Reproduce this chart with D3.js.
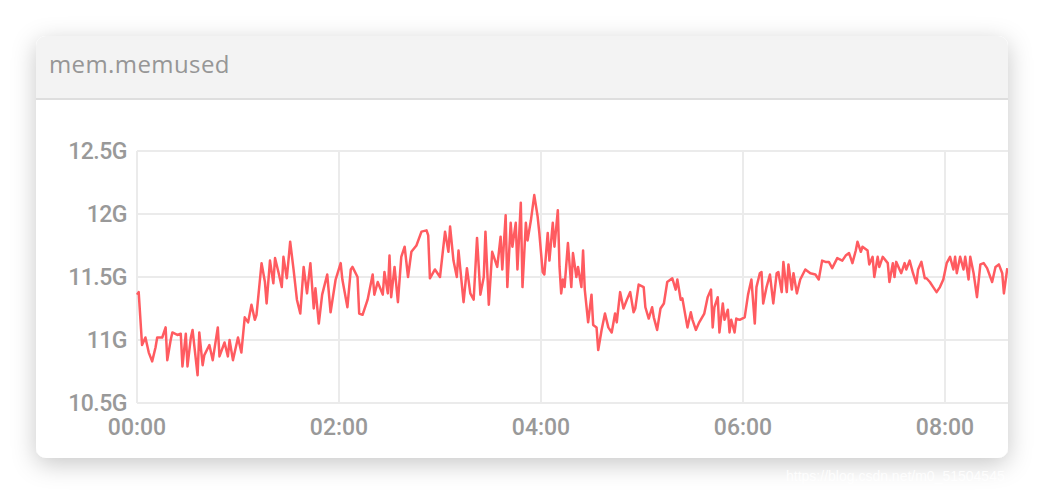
<!DOCTYPE html>
<html>
<head>
<meta charset="utf-8">
<script src="https://cdn.jsdelivr.net/npm/d3@7"></script>
<style>
  html, body { margin: 0; padding: 0; background: #ffffff; }
  svg { display: block; }
</style>
</head>
<body>
<svg id="chart"></svg>
<script>
// minutes since 00:00 and memory used in G
const minutes = [
  0, 1, 3, 5, 7, 9, 11, 12, 15, 17, 18, 20, 21, 24, 26, 27, 29, 30, 32, 33,
  36, 37, 39, 40, 43, 45, 48, 49, 52, 54, 55, 57, 60, 62, 64, 66, 68, 70, 71, 74,
  76, 77, 79, 81, 82, 84, 86, 87, 89, 91, 93, 95, 97, 99, 101, 103, 105, 106, 108, 110,
  113, 115, 118, 121, 122, 125, 127, 128, 131, 132, 134, 137, 140, 141, 143, 146, 147, 149, 150, 151,
  153, 155, 157, 159, 161, 163, 166, 169, 172, 173, 174, 177, 180, 183, 185, 186, 188, 190, 191, 194,
  196, 198, 200, 202, 204, 206, 207, 209, 211, 214, 216, 217, 219, 220, 222, 223, 225, 226, 228, 229,
  231, 232, 234, 236, 238, 239, 241, 242, 244, 245, 247, 248, 250, 251, 252, 253, 254, 256, 258, 259,
  261, 262, 264, 265, 266, 268, 270, 271, 273, 274, 276, 278, 280, 282, 284, 285, 287, 289, 291, 293,
  295, 296, 298, 301, 302, 304, 306, 307, 309, 311, 313, 315, 318, 320, 321, 323, 324, 327, 329, 330,
  332, 334, 337, 339, 341, 342, 343, 345, 346, 348, 349, 351, 352, 353, 355, 356, 358, 361, 363, 365,
  367, 368, 370, 371, 372, 374, 376, 378, 380, 381, 383, 384, 386, 387, 389, 390, 392, 394, 397, 400,
  403, 405, 407, 409, 411, 413, 416, 419, 421, 423, 425, 427, 428, 430, 431, 434, 435, 437, 438, 440,
  441, 443, 446, 447, 449, 450, 451, 454, 456, 457, 459, 461, 463, 464, 466, 468, 469, 471, 473, 475,
  477, 479, 481, 483, 485, 486, 487, 489, 491, 492, 494, 495, 497, 499, 501, 503, 505, 508, 510, 512,
  514, 515, 517
];
const memUsed = [
  11.36, 11.38, 10.96, 11.02, 10.90, 10.83, 10.94, 11.02, 11.02, 11.10, 10.84, 11.00, 11.06, 11.04, 11.05, 10.79, 11.05, 10.79, 11.02, 11.08,
  10.72, 11.06, 10.80, 10.88, 10.96, 10.84, 11.10, 10.87, 10.98, 10.87, 11.00, 10.84, 11.02, 10.90, 11.18, 11.14, 11.28, 11.16, 11.20, 11.61,
  11.46, 11.29, 11.63, 11.45, 11.65, 11.54, 11.42, 11.66, 11.49, 11.78, 11.56, 11.32, 11.21, 11.58, 11.37, 11.61, 11.25, 11.41, 11.13, 11.36,
  11.52, 11.22, 11.48, 11.61, 11.48, 11.26, 11.56, 11.58, 11.50, 11.21, 11.20, 11.32, 11.52, 11.36, 11.46, 11.36, 11.54, 11.37, 11.67, 11.34,
  11.58, 11.30, 11.66, 11.74, 11.50, 11.70, 11.75, 11.86, 11.87, 11.83, 11.49, 11.56, 11.50, 11.86, 11.70, 11.90, 11.63, 11.50, 11.71, 11.30,
  11.57, 11.37, 11.32, 11.81, 11.36, 11.50, 11.86, 11.28, 11.70, 11.58, 11.82, 11.56, 11.99, 11.42, 11.93, 11.74, 11.93, 11.56, 12.09, 11.42,
  11.93, 11.79, 11.95, 12.15, 11.98, 11.85, 11.54, 11.52, 11.85, 11.63, 11.93, 11.74, 12.03, 11.58, 11.37, 11.48, 11.42, 11.77, 11.42, 11.69,
  11.50, 11.58, 11.42, 11.71, 11.40, 11.14, 11.36, 11.12, 11.10, 10.92, 11.08, 11.21, 11.10, 11.06, 11.21, 11.14, 11.38, 11.25, 11.32, 11.38,
  11.22, 11.25, 11.44, 11.42, 11.26, 11.17, 11.26, 11.18, 11.08, 11.25, 11.29, 11.46, 11.49, 11.40, 11.48, 11.32, 11.33, 11.10, 11.22, 11.16,
  11.08, 11.14, 11.21, 11.34, 11.40, 11.10, 11.26, 11.34, 11.06, 11.29, 11.16, 11.24, 11.06, 11.16, 11.06, 11.17, 11.16, 11.18, 11.36, 11.48,
  11.13, 11.42, 11.53, 11.54, 11.29, 11.42, 11.52, 11.29, 11.53, 11.54, 11.38, 11.62, 11.38, 11.60, 11.40, 11.53, 11.37, 11.48, 11.56, 11.53,
  11.52, 11.48, 11.63, 11.62, 11.62, 11.57, 11.65, 11.63, 11.67, 11.69, 11.61, 11.71, 11.78, 11.70, 11.74, 11.71, 11.60, 11.66, 11.50, 11.66,
  11.58, 11.66, 11.61, 11.46, 11.61, 11.50, 11.62, 11.53, 11.61, 11.56, 11.63, 11.53, 11.45, 11.56, 11.62, 11.49, 11.49, 11.46, 11.42, 11.38,
  11.42, 11.48, 11.61, 11.66, 11.56, 11.66, 11.53, 11.66, 11.56, 11.66, 11.48, 11.66, 11.53, 11.34, 11.60, 11.61, 11.57, 11.46, 11.58, 11.60,
  11.53, 11.37, 11.57
];
const yTicks = [10.5, 11, 11.5, 12, 12.5];
const xTickHours = [0, 2, 4, 6, 8];
const title = "mem.memused";

const W = 1044, H = 494;
const card = { x: 36, y: 36, w: 972, h: 422, r: 10, head: 62 };
const plot = { left: 137, top: 151, bottom: 403, right: card.x + card.w };

const base = new Date(2021, 0, 1, 0, 0);
const toDate = m => new Date(base.getTime() + m * 60000);
const data = minutes.map((m, i) => ({ t: toDate(m), v: memUsed[i] }));

const svg = d3.select("#chart").attr("width", W).attr("height", H);
const defs = svg.append("defs");

const shadow = defs.append("filter").attr("id", "shadow")
  .attr("x", "-10%").attr("y", "-20%").attr("width", "120%").attr("height", "140%");
shadow.append("feDropShadow")
  .attr("dx", 0).attr("dy", 6).attr("stdDeviation", 12)
  .attr("flood-color", "#000").attr("flood-opacity", 0.22);

defs.append("clipPath").attr("id", "cardClip")
  .append("rect")
  .attr("x", card.x).attr("y", card.y)
  .attr("width", card.w).attr("height", card.h)
  .attr("rx", card.r);

// card
svg.append("rect")
  .attr("x", card.x).attr("y", card.y)
  .attr("width", card.w).attr("height", card.h)
  .attr("rx", card.r)
  .attr("fill", "#fff")
  .attr("filter", "url(#shadow)");

const inner = svg.append("g").attr("clip-path", "url(#cardClip)");

inner.append("rect")
  .attr("x", card.x).attr("y", card.y)
  .attr("width", card.w).attr("height", card.head)
  .attr("fill", "#f3f3f3");
inner.append("rect")
  .attr("x", card.x).attr("y", card.y + card.head)
  .attr("width", card.w).attr("height", 2)
  .attr("fill", "#dedede");

inner.append("text")
  .attr("x", 49).attr("y", 73)
  .attr("font-family", "'Open Sans', sans-serif")
  .attr("font-size", 24)
  .attr("letter-spacing", 0.4)
  .attr("fill", "#969696")
  .text(title);

// scales
const x = d3.scaleTime()
  .domain([toDate(0), toDate(480)])
  .range([plot.left, 945]);
const y = d3.scaleLinear()
  .domain([10.5, 12.5])
  .range([plot.bottom, plot.top]);

const grid = inner.append("g").attr("stroke", "#ebebeb").attr("stroke-width", 2);
grid.selectAll("line.h")
  .data(yTicks)
  .join("line")
  .attr("class", "h")
  .attr("x1", plot.left).attr("x2", plot.right)
  .attr("y1", d => y(d)).attr("y2", d => y(d));
grid.selectAll("line.v")
  .data(xTickHours)
  .join("line")
  .attr("class", "v")
  .attr("x1", d => x(toDate(d * 60))).attr("x2", d => x(toDate(d * 60)))
  .attr("y1", plot.top).attr("y2", plot.bottom);

const fmtG = d => d3.format("~g")(d) + "G";

inner.append("g")
  .attr("font-family", "Roboto, 'Liberation Sans', sans-serif")
  .attr("font-weight", 500)
  .attr("font-size", 23)
  .attr("fill", "#999999")
  .attr("text-anchor", "end")
  .selectAll("text")
  .data(yTicks)
  .join("text")
  .attr("x", 127)
  .attr("y", d => y(d))
  .attr("dy", "0.36em")
  .attr("letter-spacing", -0.5)
  .text(fmtG);

inner.append("g")
  .attr("font-family", "Roboto, 'Liberation Sans', sans-serif")
  .attr("font-weight", 500)
  .attr("font-size", 23)
  .attr("fill", "#999999")
  .attr("text-anchor", "middle")
  .selectAll("text")
  .data(xTickHours)
  .join("text")
  .attr("x", d => x(toDate(d * 60)))
  .attr("y", 435)
  .text(d => d3.timeFormat("%H:%M")(toDate(d * 60)));

// line
const line = d3.line()
  .x(d => x(d.t))
  .y(d => y(d.v));

inner.append("path")
  .datum(data)
  .attr("fill", "none")
  .attr("stroke", "#ff5b60")
  .attr("stroke-width", 2.5)
  .attr("stroke-linejoin", "round")
  .attr("d", line);

// watermark
svg.append("text")
  .attr("x", 786).attr("y", 481)
  .attr("font-family", "'Liberation Sans', Arial, sans-serif")
  .attr("font-size", 14)
  .attr("fill", "#ffffff")
  .attr("fill-opacity", 0.85)
  .text("https://blog.csdn.net/m0_51504545");
</script>
</body>
</html>
